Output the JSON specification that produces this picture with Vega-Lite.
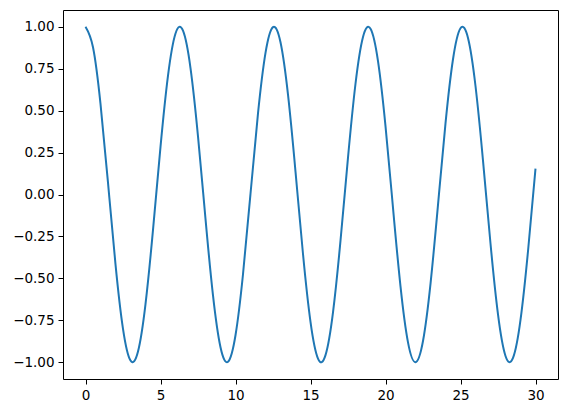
{
  "$schema": "https://vega.github.io/schema/vega-lite/v6.json",
  "width": 495,
  "height": 369,
  "autosize": {"type": "none"},
  "padding": {"left": 63, "top": 10, "right": 10, "bottom": 34},
  "background": "white",
  "config": {
    "view": {"stroke": "black", "strokeWidth": 1},
    "font": "DejaVu Sans",
    "axis": {
      "grid": false,
      "domain": false,
      "tickColor": "black",
      "tickSize": 5,
      "tickWidth": 1,
      "labelFont": "DejaVu Sans",
      "labelFontSize": 13.5,
      "labelColor": "black",
      "labelPadding": 4,
      "title": null
    }
  },
  "data": {
    "values": [
      {"x": 0, "y": 1.0}, {"x": 0.5, "y": 0.8776}, {"x": 1, "y": 0.5403}, {"x": 1.5, "y": 0.0707},
      {"x": 2, "y": -0.4161}, {"x": 2.5, "y": -0.8011}, {"x": 3, "y": -0.99}, {"x": 3.5, "y": -0.9365},
      {"x": 4, "y": -0.6536}, {"x": 4.5, "y": -0.2108}, {"x": 5, "y": 0.2837}, {"x": 5.5, "y": 0.7087},
      {"x": 6, "y": 0.9602}, {"x": 6.5, "y": 0.9766}, {"x": 7, "y": 0.7539}, {"x": 7.5, "y": 0.3466},
      {"x": 8, "y": -0.1455}, {"x": 8.5, "y": -0.602}, {"x": 9, "y": -0.9111}, {"x": 9.5, "y": -0.9972},
      {"x": 10, "y": -0.8391}, {"x": 10.5, "y": -0.4755}, {"x": 11, "y": 0.0044}, {"x": 11.5, "y": 0.4833},
      {"x": 12, "y": 0.8439}, {"x": 12.5, "y": 0.9978}, {"x": 13, "y": 0.9074}, {"x": 13.5, "y": 0.5949},
      {"x": 14, "y": 0.1367}, {"x": 14.5, "y": -0.3549}, {"x": 15, "y": -0.7597}, {"x": 15.5, "y": -0.9785},
      {"x": 16, "y": -0.9577}, {"x": 16.5, "y": -0.7024}, {"x": 17, "y": -0.2752}, {"x": 17.5, "y": 0.2194},
      {"x": 18, "y": 0.6603}, {"x": 18.5, "y": 0.9395}, {"x": 19, "y": 0.9887}, {"x": 19.5, "y": 0.7958},
      {"x": 20, "y": 0.4081}, {"x": 20.5, "y": -0.0795}, {"x": 21, "y": -0.5477}, {"x": 21.5, "y": -0.8818},
      {"x": 22, "y": -1.0}, {"x": 22.5, "y": -0.8733}, {"x": 23, "y": -0.5328}, {"x": 23.5, "y": -0.0619},
      {"x": 24, "y": 0.4242}, {"x": 24.5, "y": 0.8064}, {"x": 25, "y": 0.9912}, {"x": 25.5, "y": 0.9333},
      {"x": 26, "y": 0.6469}, {"x": 26.5, "y": 0.2021}, {"x": 27, "y": -0.2921}, {"x": 27.5, "y": -0.7149},
      {"x": 28, "y": -0.9626}, {"x": 28.5, "y": -0.9746}, {"x": 29, "y": -0.7481}, {"x": 29.5, "y": -0.3383},
      {"x": 30, "y": 0.1543}
    ]
  },
  "mark": {"type": "line", "interpolate": "natural", "color": "#1f77b4", "strokeWidth": 2, "clip": true},
  "encoding": {
    "x": {
      "field": "x",
      "type": "quantitative",
      "scale": {"domain": [-1.5, 31.5], "nice": false, "zero": false},
      "axis": {"values": [0, 5, 10, 15, 20, 25, 30], "format": "d"}
    },
    "y": {
      "field": "y",
      "type": "quantitative",
      "scale": {"domain": [-1.1, 1.1], "nice": false, "zero": false},
      "axis": {
        "values": [-1, -0.75, -0.5, -0.25, 0, 0.25, 0.5, 0.75, 1],
        "labelExpr": "replace(format(datum.value, '.2f'), '-', '\u2212')"
      }
    }
  }
}
